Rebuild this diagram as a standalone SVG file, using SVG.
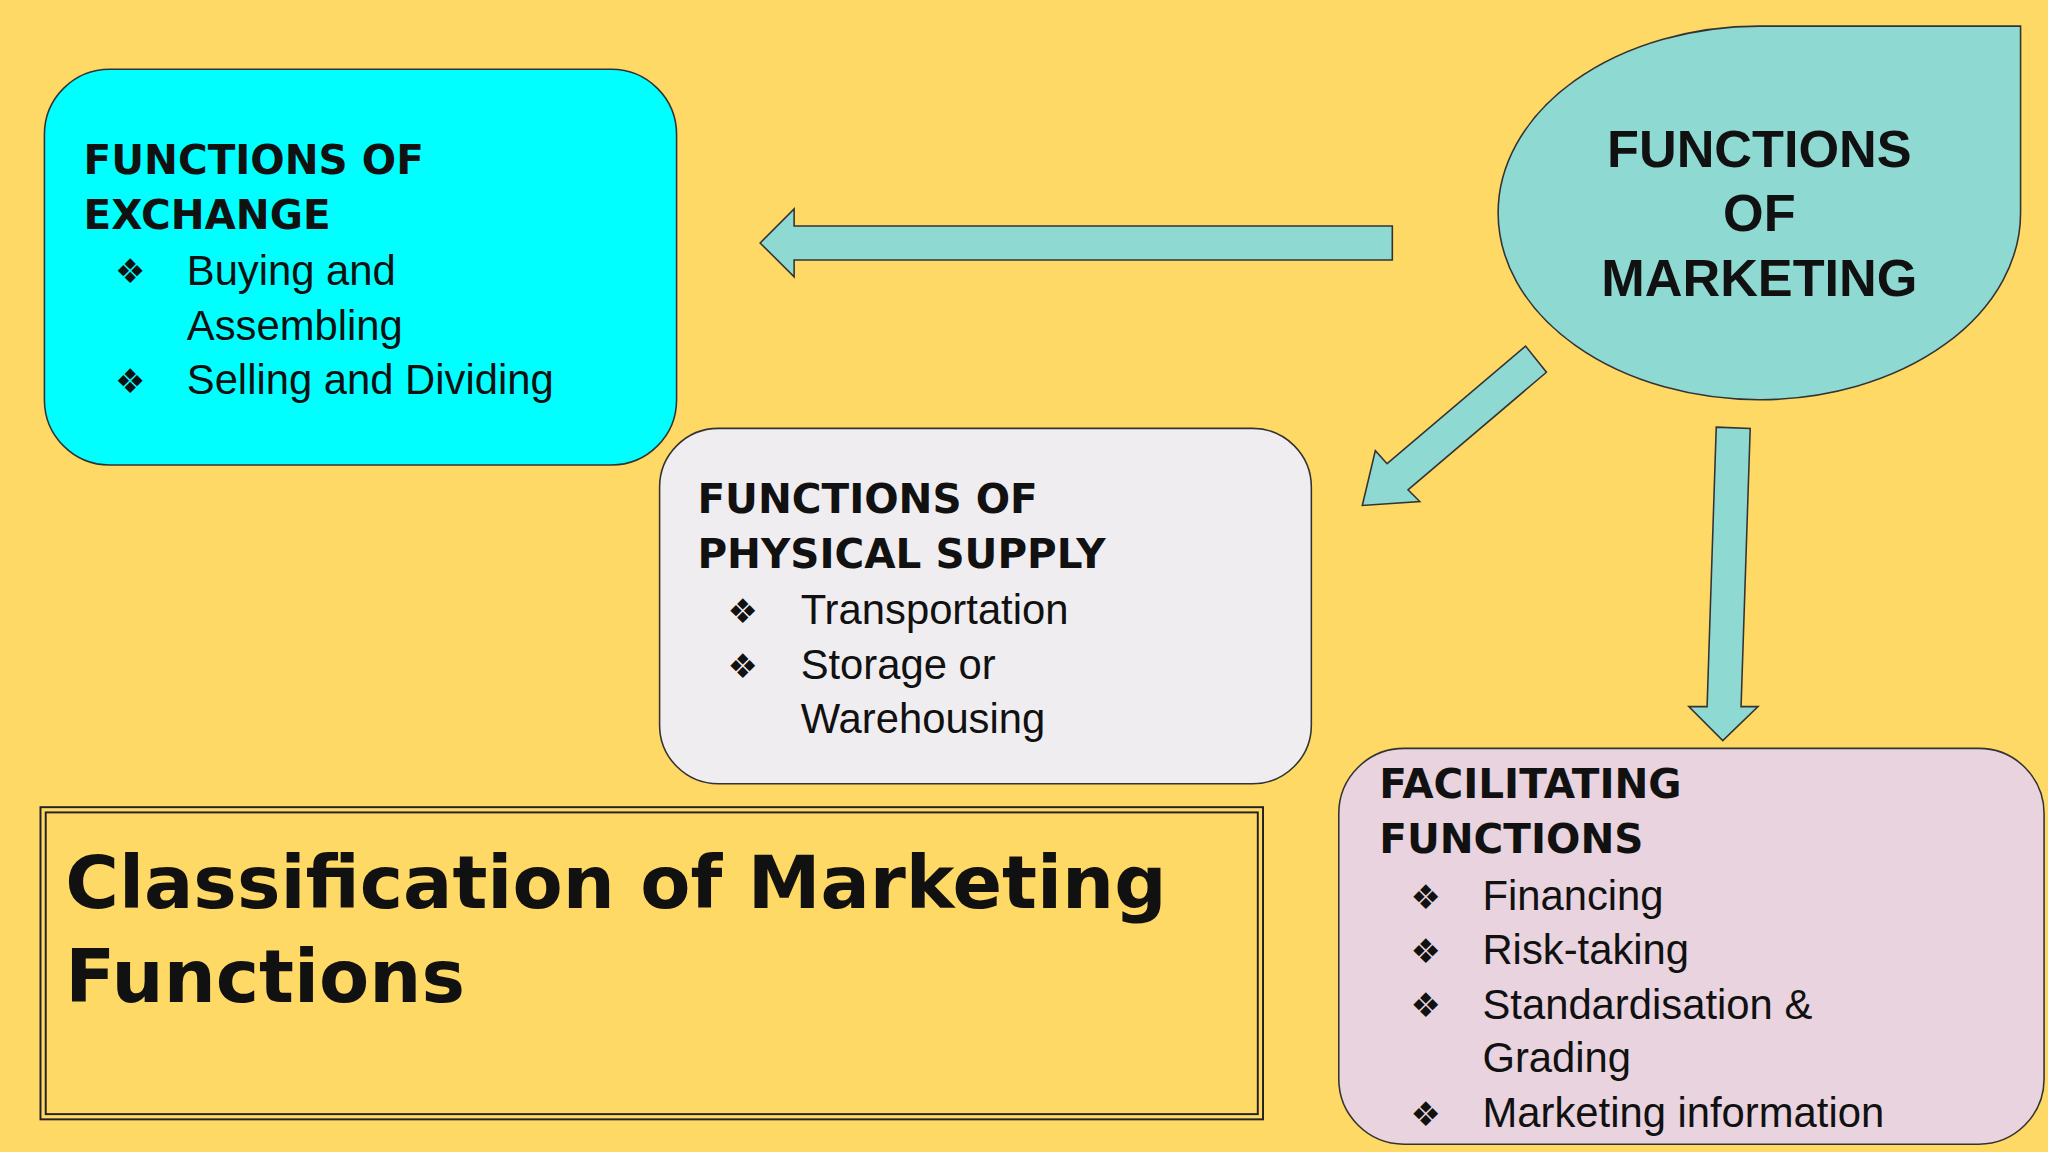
<svg xmlns="http://www.w3.org/2000/svg" width="2048" height="1152" viewBox="0 0 2048 1152">
<style>
.h{font-family:"DejaVu Sans","Liberation Sans",sans-serif;font-weight:bold;font-size:31px;fill:#111}
.t{font-family:"Liberation Sans",Arial,sans-serif;font-size:32px;fill:#111}
.b{font-family:"DejaVu Sans",sans-serif;font-size:26px;fill:#111}
.big{font-family:"Liberation Sans",Arial,sans-serif;font-weight:bold;font-size:40px;fill:#111}
.cl{font-family:"DejaVu Sans","Liberation Sans",sans-serif;font-weight:bold;font-size:56px;fill:#111}
.ar{fill:#8FD9D3;stroke:#333;stroke-width:1.2}
</style>
<rect width="2048" height="1152" fill="#FFD966"/>
<g transform="scale(1.30612)">
<g id="marketing">
<path d="M1547,20 L1547,162 A200,143 0 1 1 1347,20 Z" fill="#8FD9D3" stroke="#333" stroke-width="1.2"/>
<text class="big" x="1347" y="128" text-anchor="middle">FUNCTIONS</text>
<text class="big" x="1347" y="177" text-anchor="middle">OF</text>
<text class="big" x="1347" y="227" text-anchor="middle">MARKETING</text>
</g>
<g id="connectors">
<polygon class="ar" points="1066,173 608,173 608,160 582,186 608,212 608,199 1066,199"/>
<polygon class="ar" points="1184,285 1078,375 1087,384 1043,387 1053,345 1062,355 1168,265"/>
<polygon class="ar" points="1314,327 1340,328 1333,541 1346,541 1319,567 1293,541 1307,541"/>
</g>
<g id="exchange">
<rect x="34" y="53" width="484" height="303" rx="50" fill="#00FFFF" stroke="#333" stroke-width="1.2"/>
<text class="h" x="64" y="133">FUNCTIONS OF</text>
<text class="h" x="64" y="175">EXCHANGE</text>
<text class="b" x="88" y="217">❖</text><text class="t" x="143" y="218">Buying and</text>
<text class="t" x="143" y="260">Assembling</text>
<text class="b" x="88" y="301">❖</text><text class="t" x="143" y="302">Selling and Dividing</text>
</g>
<g id="physical">
<rect x="505" y="328" width="499" height="272" rx="45" fill="#EFEDF0" stroke="#333" stroke-width="1.2"/>
<text class="h" x="534" y="393">FUNCTIONS OF</text>
<text class="h" x="534" y="435">PHYSICAL SUPPLY</text>
<text class="b" x="557" y="477">❖</text><text class="t" x="613" y="478">Transportation</text>
<text class="b" x="557" y="519">❖</text><text class="t" x="613" y="520">Storage or</text>
<text class="t" x="613" y="561">Warehousing</text>
</g>
<g id="classification">
<rect x="31" y="618" width="936" height="239" fill="none" stroke="#222" stroke-width="1.5"/>
<rect x="35" y="622" width="928" height="231" fill="none" stroke="#222" stroke-width="1.5"/>
<text class="cl" x="50" y="695">Classification of Marketing</text>
<text class="cl" x="50" y="767">Functions</text>
</g>
<g id="facilitating">
<rect x="1025" y="573" width="540" height="303" rx="50" fill="#E8D3DE" stroke="#333" stroke-width="1.2"/>
<text class="h" x="1056" y="611">FACILITATING</text>
<text class="h" x="1056" y="653">FUNCTIONS</text>
<text class="b" x="1080" y="696">❖</text><text class="t" x="1135" y="697">Financing</text>
<text class="b" x="1080" y="737">❖</text><text class="t" x="1135" y="738">Risk-taking</text>
<text class="b" x="1080" y="779">❖</text><text class="t" x="1135" y="780">Standardisation &amp;</text>
<text class="t" x="1135" y="821">Grading</text>
<text class="b" x="1080" y="862">❖</text><text class="t" x="1135" y="863">Marketing information</text>
</g>
</g>
</svg>
